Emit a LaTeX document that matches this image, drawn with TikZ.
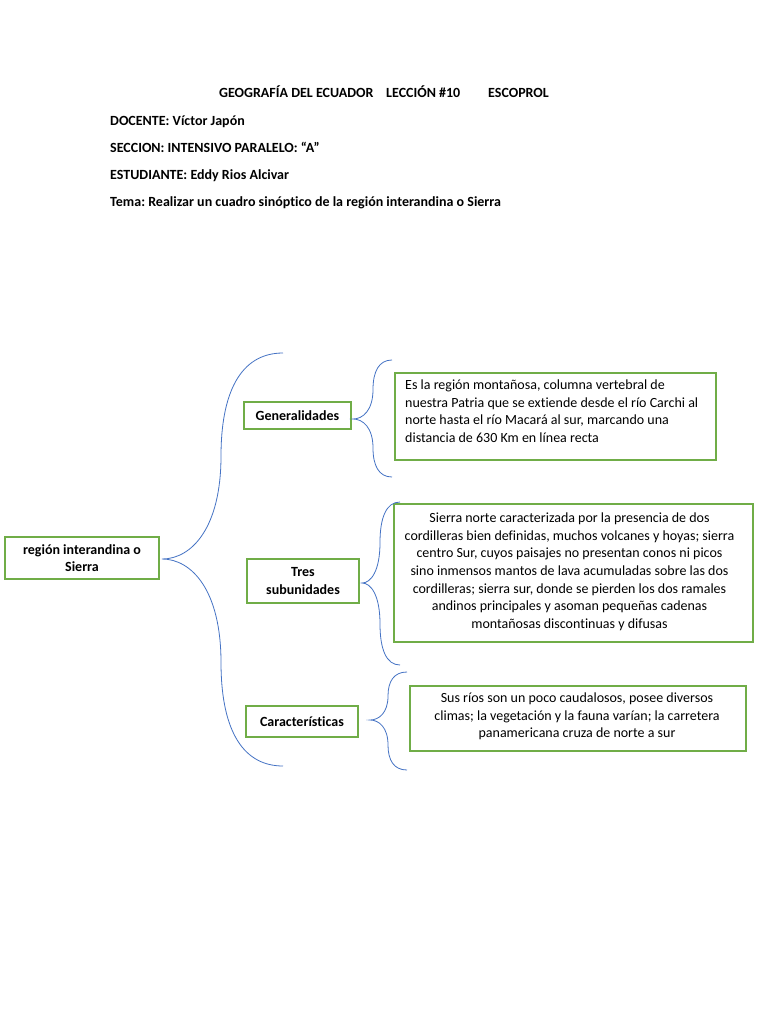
\documentclass[tikz,border=0pt]{standalone}
\usepackage{fontspec}
\setmainfont{Carlito}[Ligatures=NoCommon]
\frenchspacing
\definecolor{boxgreen}{RGB}{112,173,71}
\definecolor{braceblue}{RGB}{68,114,196}
% #1 end x, #2 vertical x, #3 tip x, #4 top y, #5 tip y, #6 bottom y
\newcommand\cbrace[6]{%
  \draw[bracecurve] (#1,#4)
    .. controls ({#2+0.3*(#1-#2)},{#4}) and (#2,{#4+0.2*(#5-#4)}) .. (#2,{#4+0.5*(#5-#4)})
    .. controls (#2,{#4+0.85*(#5-#4)}) and ({#3+0.5*(#2-#3)},{#5}) .. (#3,#5)
    .. controls ({#3+0.5*(#2-#3)},{#5}) and (#2,{#6-0.85*(#6-#5)}) .. (#2,{#6-0.5*(#6-#5)})
    .. controls (#2,{#6-0.2*(#6-#5)}) and ({#2+0.3*(#1-#2)},{#6}) .. (#1,#6);}
\begin{document}
\begin{tikzpicture}[x=1pt,y=-1pt,
  every node/.style={font=\fontsize{14}{17.6}\selectfont, inner sep=0pt},
  hdr/.style={anchor=base west, font=\fontsize{14}{17.6}\selectfont\bfseries},
  keybox/.style={draw=boxgreen, line width=1.6pt, align=center, font=\fontsize{14}{17.6}\selectfont\bfseries},
  descbox/.style={draw=boxgreen, line width=1.6pt},
  bracecurve/.style={draw=braceblue, line width=0.8pt}]
\fill[white] (0,0) rectangle (768,1024);
\useasboundingbox (0,0) rectangle (768,1024);
% header
\node[hdr] (t1) at (219,97.5) {GEOGRAFÍA DEL ECUADOR};
\node[hdr] (t2) at (386,97.5) {LECCIÓN \#10};
\node[hdr] (t3) at (488,97.5) {ESCOPROL};
\node[hdr] (doc) at (110,125.5) {DOCENTE: Víctor Japón};
\node[hdr] (sec) at (110,152.5) {SECCION: INTENSIVO PARALELO: “A”};
\node[hdr] (est) at (110,179.5) {ESTUDIANTE: Eddy Rios Alcivar};
\node[hdr] (tema) at (110,206.5) {Tema: Realizar un cuadro sinóptico de la región interandina o Sierra};
% key boxes
\node[keybox, minimum width=154pt, minimum height=42pt] (reg) at (82,558) {región interandina o\\Sierra};
\node[keybox, minimum width=107pt, minimum height=27pt] (gen) at (297.5,415.5) {Generalidades};
\node[keybox, minimum width=112pt, minimum height=44pt] (tres) at (303,581) {Tres\\subunidades};
\node[keybox, minimum width=112pt, minimum height=31pt] (car) at (302,721.5) {Características};
% description boxes
\node[descbox, minimum width=321pt, minimum height=87pt] (d1) at (555.5,416.5) {};
\node[descbox, minimum width=359pt, minimum height=138pt] (d2) at (573.5,573) {};
\node[descbox, minimum width=336pt, minimum height=65pt] (d3) at (578,718.5) {};
\node[anchor=north west, align=left] (d1t) at (405,377.2) {\strut Es la región montañosa, columna vertebral de\\nuestra Patria que se extiende desde el río Carchi al\\norte hasta el río Macará al sur, marcando una\\distancia de 630 Km en línea recta};
\node[anchor=north, align=center] (d2t) at (569.5,510.2) {\strut Sierra norte caracterizada por la presencia de dos\\cordilleras bien definidas, muchos volcanes y hoyas; sierra\\centro Sur, cuyos paisajes no presentan conos ni picos\\sino inmensos mantos de lava acumuladas sobre las dos\\cordilleras; sierra sur, donde se pierden los dos ramales\\andinos principales y asoman pequeñas cadenas\\montañosas discontinuas y difusas};
\node[anchor=north, align=center] (d3t) at (577,690.2) {\strut Sus ríos son un poco caudalosos, posee diversos\\climas; la vegetación y la fauna varían; la carretera\\panamericana cruza de norte a sur};
% braces
\cbrace{283}{221}{162}{353}{559}{766}
\cbrace{392}{373}{353}{360}{419}{477}
\cbrace{400}{380}{362}{502}{583}{665}
\cbrace{407}{388}{370}{672}{720}{770}
\end{tikzpicture}
\end{document}
